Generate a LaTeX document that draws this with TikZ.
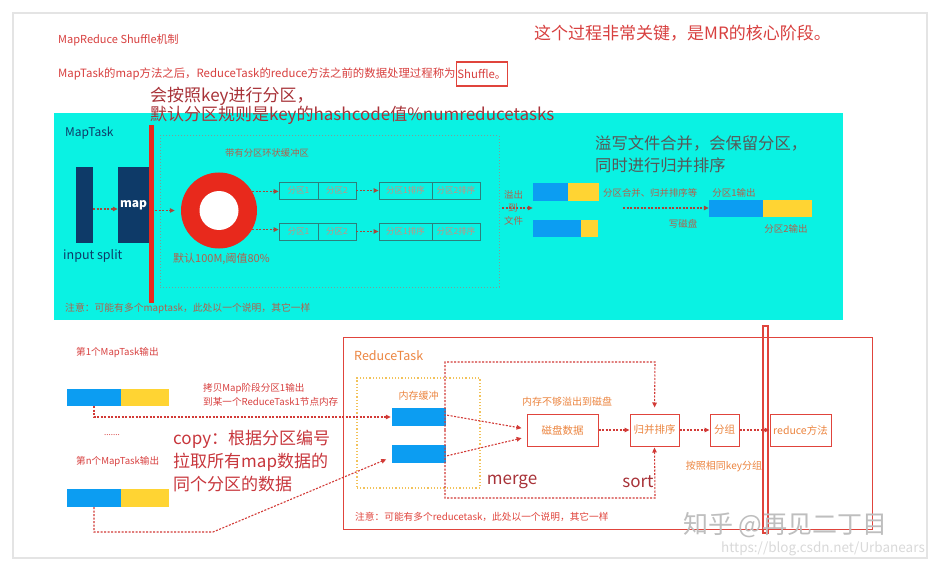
\documentclass[tikz,border=0pt]{standalone}
\usepackage{fontspec}
\setmainfont{Noto Sans CJK SC}
\usetikzlibrary{arrows.meta}
\definecolor{titlered}{HTML}{D8403F}
\definecolor{keyred}{HTML}{A83238}
\definecolor{copyred}{HTML}{C8363C}
\definecolor{cyanbg}{HTML}{0AF2E3}
\definecolor{navy}{HTML}{0E3A68}
\definecolor{ringred}{HTML}{E8291C}
\definecolor{barblue}{HTML}{0C9DF2}
\definecolor{baryellow}{HTML}{FFD433}
\definecolor{brownt}{HTML}{B2604C}
\definecolor{tealline}{HTML}{2E7F7C}
\definecolor{bufline}{HTML}{7E9C98}
\definecolor{ptext}{HTML}{C89080}
\definecolor{grayt}{HTML}{575757}
\definecolor{orangt}{HTML}{EC8540}
\definecolor{redline}{HTML}{E0443C}
\definecolor{arrowc}{HTML}{D23A36}
\definecolor{arrowb}{HTML}{A8463A}
\definecolor{membufc}{HTML}{F2C25A}
\definecolor{frameg}{HTML}{E4E4E4}
\definecolor{wmc}{HTML}{BEBEBE}
\definecolor{wmd}{HTML}{D9D9D9}
\newcommand\fsz[1]{\fontsize{#1}{#1}\selectfont}
\begin{document}
\begin{tikzpicture}[x=1pt,y=-1pt,
  lbl/.style={inner sep=0pt,anchor=west},
  clbl/.style={inner sep=0pt},
  darr/.style={draw=arrowc,line width=1.1pt,dash pattern=on 2pt off 1.5pt,-{Triangle[length=5pt,width=4.5pt]}},
  darrb/.style={darr,draw=arrowb},
  pbox/.style={draw=tealline,line width=0.8pt,minimum height=17pt,inner sep=0pt,font=\fsz{8.5},text=ptext},
  blk/.style={inner sep=0pt,draw=none},
  rbx/.style={draw=redline,line width=1pt,minimum height=32pt,inner sep=0pt,font=\fsz{10.5},text=orangt}
]
\useasboundingbox (0,0) rectangle (935,567);
\fill[white] (0,0) rectangle (935,567);
\draw[frameg,line width=1.5pt] (13,13) rectangle (927,558);

% ---------- header texts ----------
\node[lbl,text=titlered,font=\fsz{11}] (title) at (58,40) {MapReduce Shuffle机制};
\node[lbl,text=titlered,font=\fsz{11.4}] (line2) at (58,74) {MapTask的map方法之后，ReduceTask的reduce方法之前的数据处理过程称为};
\node[anchor=west,inner xsep=1pt,inner ysep=0pt,minimum height=24pt,draw=redline,line width=1.3pt,text=titlered,font=\fsz{11.4}] (shuf) at (line2.east) {Shuffle。};
\node[lbl,text=titlered,font=\fsz{17}] (key) at (534,33) {这个过程非常关键，是MR的核心阶段。};

% ---------- MapTask area ----------
\node[blk,fill=cyanbg,minimum width=789,minimum height=207] (mapbg) at (448.5,216.5) {};
\node[lbl,text=keyred,font=\fsz{17}] (part1) at (150,96) {会按照key进行分区，};
\node[lbl,text=keyred,font=\fsz{17}] (part2) at (150,115) {默认分区规则是key的hashcode值\%numreducetasks};
\node[lbl,text=navy,font=\fsz{12}] (mtlabel) at (65,133) {MapTask};

\node[draw=bufline,dotted,line width=1pt,minimum width=339,minimum height=151,inner sep=0pt] (buf) at (329.5,211.5) {};
\node[clbl,text=brownt,font=\fsz{9.3}] (buflabel) at (267,153) {带有分区环状缓冲区};

\node[blk,fill=navy,minimum width=17,minimum height=76] (split) at (84.5,205) {};
\node[blk,fill=navy,minimum width=31,minimum height=76,text=white,font=\fsz{12}\bfseries] (map) at (133.5,205) {map};
\node[lbl,text=navy,font=\fsz{12.5}] (splitlabel) at (63,256) {input split};
\fill[ringred] (149,125) rectangle (154,303);

\node[circle,fill=ringred,minimum size=76,inner sep=0pt] (ring) at (219,210.5) {};
\node[circle,fill=white,minimum size=39,inner sep=0pt] (ringin) at (ring.center) {};
\node[lbl,text=brownt,font=\fsz{11}] (ringlabel) at (173,259) {默认100M,阈值80\%};

\draw[darrb] ([yshift=-4pt]split.east) -- ([yshift=-4pt]map.west);
\draw[darrb,shorten <=6pt,shorten >=6pt] (ring.west -| map.east) -- (ring.west);

\node[pbox,minimum width=39] (p11) at (298.5,190.5) {分区1};
\node[pbox,minimum width=38] (p12) at (337,190.5) {分区2};
\node[pbox,minimum width=53] (s11) at (405.5,190.5) {分区1排序};
\node[pbox,minimum width=48] (s12) at (456,190.5) {分区2排序};
\node[pbox,minimum width=39] (p21) at (298.5,231.5) {分区1};
\node[pbox,minimum width=38] (p22) at (337,231.5) {分区2};
\node[pbox,minimum width=53] (s21) at (405.5,231.5) {分区1排序};
\node[pbox,minimum width=48] (s22) at (456,231.5) {分区2排序};
\draw[darrb] (ring.30) -- (ring.30 -| p11.west);
\draw[darrb] (ring.-30) -- (ring.-30 -| p21.west);
\draw[darrb] (p12.east) -- (s11.west);
\draw[darrb] (p22.east) -- (s21.west);

\coordinate (spillA) at (502,208);
\node[blk,fill=barblue,minimum width=35,minimum height=18] (t1b) at (550.5,192) {};
\node[blk,fill=baryellow,minimum width=31,minimum height=18] (t1y) at (583.5,192) {};
\node[blk,fill=barblue,minimum width=48,minimum height=17] (t2b) at (557,228.5) {};
\node[blk,fill=baryellow,minimum width=17,minimum height=17] (t2y) at (589.5,228.5) {};
\draw[darrb] (spillA) -- (spillA -| t1b.west);
\node[lbl,text=brownt,font=\fsz{9.5}] (spill1) at (504,195) {溢出};
\node[lbl,text=brownt,font=\fsz{9.5}] (spill2) at (508,208) {到};
\node[lbl,text=brownt,font=\fsz{9.5}] (spill3) at (504,221) {文件};

\node[lbl,text=grayt,font=\fsz{16.3}] (mg1) at (595,143) {溢写文件合并，会保留分区，};
\node[lbl,text=grayt,font=\fsz{16.3}] (mg2) at (595,165) {同时进行归并排序};
\node[lbl,text=brownt,font=\fsz{9.4}] (mglabel) at (603,193) {分区合并、归并排序等};

\node[blk,fill=barblue,minimum width=54,minimum height=17] (o1b) at (736,208.5) {};
\node[blk,fill=baryellow,minimum width=49,minimum height=17] (o1y) at (787.5,208.5) {};
\coordinate (mergeA) at (623,208);
\draw[darrb] (mergeA) -- (mergeA -| o1b.west);
\node[clbl,text=brownt,font=\fsz{9.5}] (wdisk) at (683,224) {写磁盘};
\node[clbl,text=brownt,font=\fsz{9.5}] (out1) at (734,193) {分区1输出};
\node[clbl,text=brownt,font=\fsz{9.5}] (out2) at (786,229) {分区2输出};
\node[lbl,text=brownt,font=\fsz{9.8}] (mapnote) at (65,308) {注意：可能有多个maptask，此处以一个说明，其它一样};

% ---------- lower left ----------
\node[lbl,text=titlered,font=\fsz{9.6}] (first) at (76,353) {第1个MapTask输出};
\node[blk,fill=barblue,minimum width=54,minimum height=17] (b1b) at (94,397.5) {};
\node[blk,fill=baryellow,minimum width=48,minimum height=17] (b1y) at (145,397.5) {};
\node[lbl,text=titlered,font=\fsz{9.6}] (copy1) at (203,389) {拷贝Map阶段分区1输出};
\node[lbl,text=titlered,font=\fsz{9.6}] (copy2) at (203,402) {到某一个ReduceTask1节点内存};
\node[clbl,text=titlered,font=\fsz{8}] (dots) at (112,435) {.......};
\node[lbl,text=titlered,font=\fsz{9.6}] (nth) at (76,462) {第n个MapTask输出};
\node[blk,fill=barblue,minimum width=54,minimum height=18] (bnb) at (94,498) {};
\node[blk,fill=baryellow,minimum width=48,minimum height=18] (bny) at (145,498) {};
\node[lbl,text=copyred,font=\fsz{17}] (cp1) at (173,439) {copy：根据分区编号};
\node[lbl,text=copyred,font=\fsz{17}] (cp2) at (173,462) {拉取所有map数据的};
\node[lbl,text=copyred,font=\fsz{17}] (cp3) at (173,484) {同个分区的数据};

% ---------- ReduceTask ----------
\node[draw=redline,line width=1pt,minimum width=529,minimum height=192,inner sep=0pt] (rbox) at (607.5,433) {};
\draw[redline,line width=1.2pt] (763,326) rectangle (768,533);
\node[lbl,text=orangt,font=\fsz{12.5}] (rtlabel) at (354,356) {ReduceTask};
\node[draw=membufc,dotted,line width=1.2pt,minimum width=123,minimum height=110,inner sep=0pt] (membuf) at (418.5,433) {};
\node[clbl,text=orangt,font=\fsz{10}] (memlabel) at (418.5,396) {内存缓冲};
\node[blk,fill=barblue,minimum width=54,minimum height=18] (m1) at (419,417) {};
\node[blk,fill=barblue,minimum width=54,minimum height=18] (m2) at (419,454) {};

\node[rbx,minimum width=71] (disk) at (562.5,430) {磁盘数据};
\node[rbx,minimum width=49] (ms) at (654.5,430) {归并排序};
\node[rbx,minimum width=29] (grp) at (724.5,430) {分组};
\node[rbx,minimum width=61] (rm) at (800.5,430) {reduce方法};
\node[clbl,text=orangt,font=\fsz{10}] (spilldisk) at (567,402) {内存不够溢出到磁盘};
\node[clbl,text=orangt,font=\fsz{10}] (grplabel) at (724,466) {按照相同key分组};
\node[clbl,text=keyred,font=\fsz{17}] (merge) at (512,482) {merge};
\node[clbl,text=keyred,font=\fsz{17}] (sort) at (638,482) {sort};
\node[lbl,text=redline,font=\fsz{9.7}] (rnote) at (355,517) {注意：可能有多个reducetask，此处以一个说明，其它一样};

\draw[darr,shorten >=1pt] (b1b.south) |- (m1.west);
\coordinate (bend) at (213,532);
\draw[darr,shorten >=6pt] (bnb.south) |- (bend) -- ([yshift=-3pt]m2.west);
\draw[darr,shorten <=1pt,shorten >=5pt] ([yshift=2pt]m1.east) -- ([yshift=1pt]disk.west);
\draw[darr,shorten <=1pt,shorten >=5pt] ([yshift=-2pt]m2.east) -- ([yshift=-7pt]disk.west);
\draw[darr] (disk.east) -- (ms.west);
\draw[darr] (ms.east) -- (grp.west);
\draw[darr] (grp.east) -- (rm.west);
\coordinate (loopL) at (445,430);
\coordinate (loopT) at (655,362);
\coordinate (loopB) at (655,498);
\draw[darr,shorten >=6pt] (loopL) |- (loopT) -- (ms.north);
\draw[darr,shorten >=1pt] (loopL) |- (loopB) -- (ms.south);

% ---------- watermark ----------
\node[lbl,text=wmc,font=\fsz{25}] (wm1) at (683,525) {知乎 @再见二丁目};
\node[inner sep=0pt,anchor=east,text=wmd,font=\fsz{13.5}] (wm2) at (925,549) {https://blog.csdn.net/Urbanears};
\end{tikzpicture}
\end{document}
